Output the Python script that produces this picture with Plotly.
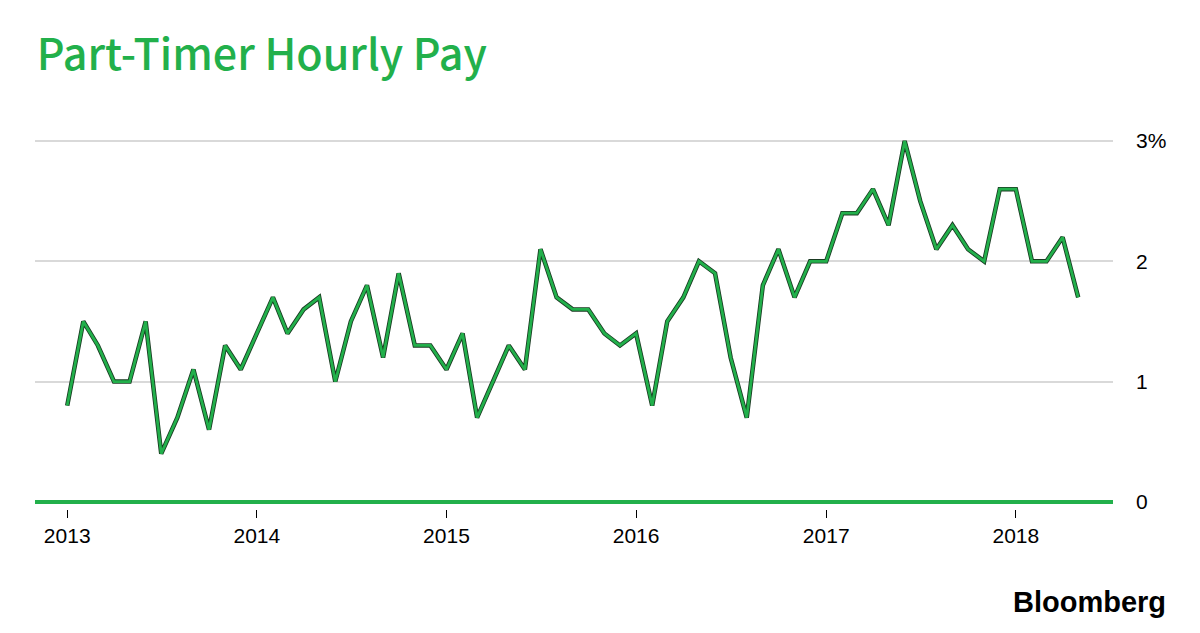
import plotly.graph_objects as go
import pandas as pd

dates = pd.date_range("2013-01-01", "2018-05-01", freq="MS")
values = [0.8,1.5,1.3,1.0,1.0,1.5,0.4,0.7,1.1,0.6,1.3,1.1,
          1.4,1.7,1.4,1.6,1.7,1.0,1.5,1.8,1.2,1.9,1.3,1.3,
          1.1,1.4,0.7,1.0,1.3,1.1,2.1,1.7,1.6,1.6,1.4,1.3,
          1.4,0.8,1.5,1.7,2.0,1.9,1.2,0.7,1.8,2.1,1.7,2.0,
          2.0,2.4,2.4,2.6,2.3,3.0,2.5,2.1,2.3,2.1,2.0,2.6,
          2.6,2.0,2.0,2.2,1.7]
tickvals = ["2013-01-01","2014-01-01","2015-01-01","2016-01-01","2017-01-01","2018-01-01"]
ticktext = ["2013","2014","2015","2016","2017","2018"]
green = "#22b04b"

fig = go.Figure()
fig.add_trace(go.Scatter(x=dates, y=values, mode="lines", line=dict(color="#1a3a22", width=4.5), hoverinfo="skip"))
fig.add_trace(go.Scatter(x=dates, y=values, mode="lines", line=dict(color=green, width=2.8)))
fig.update_layout(
    width=1200, height=633, showlegend=False,
    plot_bgcolor="white", paper_bgcolor="white",
    margin=dict(l=27, r=95, t=115, b=132, autoexpand=False),
    font=dict(family="Liberation Sans", size=21, color="black"),
    title=dict(text="Part-Timer Hourly Pay", x=0.024, xanchor="left", y=0.926, yanchor="middle",
               font=dict(family="Noto Sans CJK JP", size=43, color=green, weight=500)),
    xaxis=dict(range=["2012-10-31", "2018-07-07"], tickvals=tickvals, ticktext=ticktext,
               showgrid=False, zeroline=False, ticks="outside", ticklen=8, tickcolor="black",
               showline=False, automargin=False),
    yaxis=dict(range=[-0.06, 3.15], side="right", tickvals=[0,1,2,3], ticktext=["0","1","2","3%"],
               showgrid=True, gridcolor="#d9d9d9", gridwidth=2, zeroline=True, zerolinecolor=green,
               zerolinewidth=4, ticklabelstandoff=22, automargin=False),
)
fig.add_annotation(text="<b>Bloomberg</b>", xref="paper", yref="paper", x=1.051, y=-0.241,
                   xanchor="right", yanchor="middle", showarrow=False,
                   font=dict(family="Liberation Sans", size=29, color="black"))
fig.write_html("out.html")
